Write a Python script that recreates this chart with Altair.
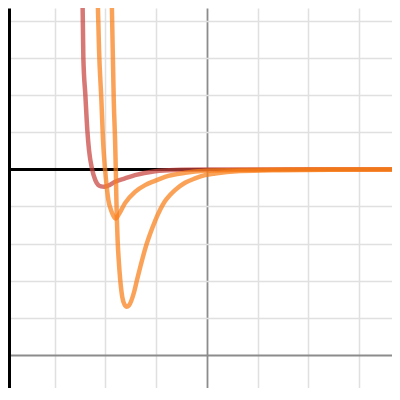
import altair as alt
import pandas as pd

# Curves (x: 0.5 per minor vertical gridline, y: 1 per minor horizontal gridline)
red_x = [0.774, 0.782, 0.802, 0.822, 0.838, 0.868, 0.900, 0.930, 0.957, 0.986, 1.026, 1.095, 1.193, 1.292, 1.489, 1.686, 1.982, 2.525, 3.215, 3.950]
red_y = [4.554, 3.020, 1.997, 1.028, 0.517, 0.005, -0.291, -0.425, -0.460, -0.470, -0.440, -0.336, -0.245, -0.156, -0.050, -0.015, -0.006, -0.003, -0.001, -0.001]

mid_x = [0.924, 0.937, 0.960, 0.976, 0.996, 1.011, 1.029, 1.055, 1.075, 1.100, 1.134, 1.193, 1.292, 1.391, 1.489, 1.588, 1.785, 1.982, 2.327, 2.919, 3.950]
mid_y = [4.554, 3.208, 1.862, 0.786, 0.005, -0.425, -0.829, -1.098, -1.233, -1.322, -1.206, -0.910, -0.606, -0.425, -0.310, -0.202, -0.094, -0.040, -0.016, -0.005, -0.002]

deep_x = [1.062, 1.072, 1.082, 1.095, 1.102, 1.108, 1.113, 1.120, 1.131, 1.146, 1.166, 1.188, 1.210, 1.231, 1.282, 1.311, 1.351, 1.391, 1.440, 1.489, 1.538, 1.588, 1.637, 1.686, 1.785, 1.884, 1.982, 2.081, 2.327, 2.722, 3.215, 3.950]
deep_y = [4.554, 3.208, 1.862, 0.786, 0.005, -0.829, -1.367, -1.906, -2.444, -2.983, -3.440, -3.642, -3.701, -3.669, -3.311, -2.983, -2.552, -2.148, -1.744, -1.394, -1.098, -0.856, -0.694, -0.560, -0.363, -0.245, -0.156, -0.110, -0.048, -0.022, -0.011, -0.003]

series_names = ["a", "b", "c"]
series_colors = ["#c74440", "#fa7e19", "#fa7e19"]

x_grid = [0.5, 1.0, 1.5, 2.0, 2.5, 3.0, 3.5]
y_grid = [-6, -5, -4, -3, -2, -1, 1, 2, 3, 4]

rows = []
for name, xs, ys in zip(series_names, [red_x, mid_x, deep_x], [red_y, mid_y, deep_y]):
    for i, (xv, yv) in enumerate(zip(xs, ys)):
        rows.append({"series": name, "x": xv, "y": yv, "order": i})
df = pd.DataFrame(rows)

xscale = alt.Scale(domain=[0.039, 3.826], nice=False, zero=False)
yscale = alt.Scale(domain=[-5.890, 4.345], nice=False, zero=False)

zero_rule = alt.Chart(df).mark_rule(color="black", strokeWidth=2.8).encode(
    y=alt.datum(0)
)

lines = alt.Chart(df).mark_line(
    strokeWidth=4.5, opacity=0.72, interpolate="monotone", clip=True,
    strokeCap="round", strokeJoin="round"
).encode(
    x=alt.X("x:Q", scale=xscale, axis=alt.Axis(
        values=x_grid, labels=False, ticks=False, domain=False, title=None, grid=True,
        gridColor={"expr": "datum.value === 2 ? '#8c8c8c' : '#e0e0e0'"},
        gridWidth={"expr": "datum.value === 2 ? 1.8 : 1.5"})),
    y=alt.Y("y:Q", scale=yscale, axis=alt.Axis(
        values=y_grid, labels=False, ticks=False, domain=True, domainColor="black",
        domainWidth=5, title=None, grid=True,
        gridColor={"expr": "datum.value === -5 ? '#8c8c8c' : '#e0e0e0'"},
        gridWidth={"expr": "datum.value === -5 ? 1.8 : 1.5"})),
    color=alt.Color("series:N", scale=alt.Scale(domain=series_names, range=series_colors), legend=None),
    order="order:Q",
    detail="series:N",
)

chart = alt.layer(zero_rule, lines).properties(
    width=384, height=380, padding=0,
    autosize=alt.AutoSizeParams(type="none"),
    background="white",
).configure_view(stroke=None)

chart.save("out.html", embed_options={"renderer": "svg", "actions": False})
